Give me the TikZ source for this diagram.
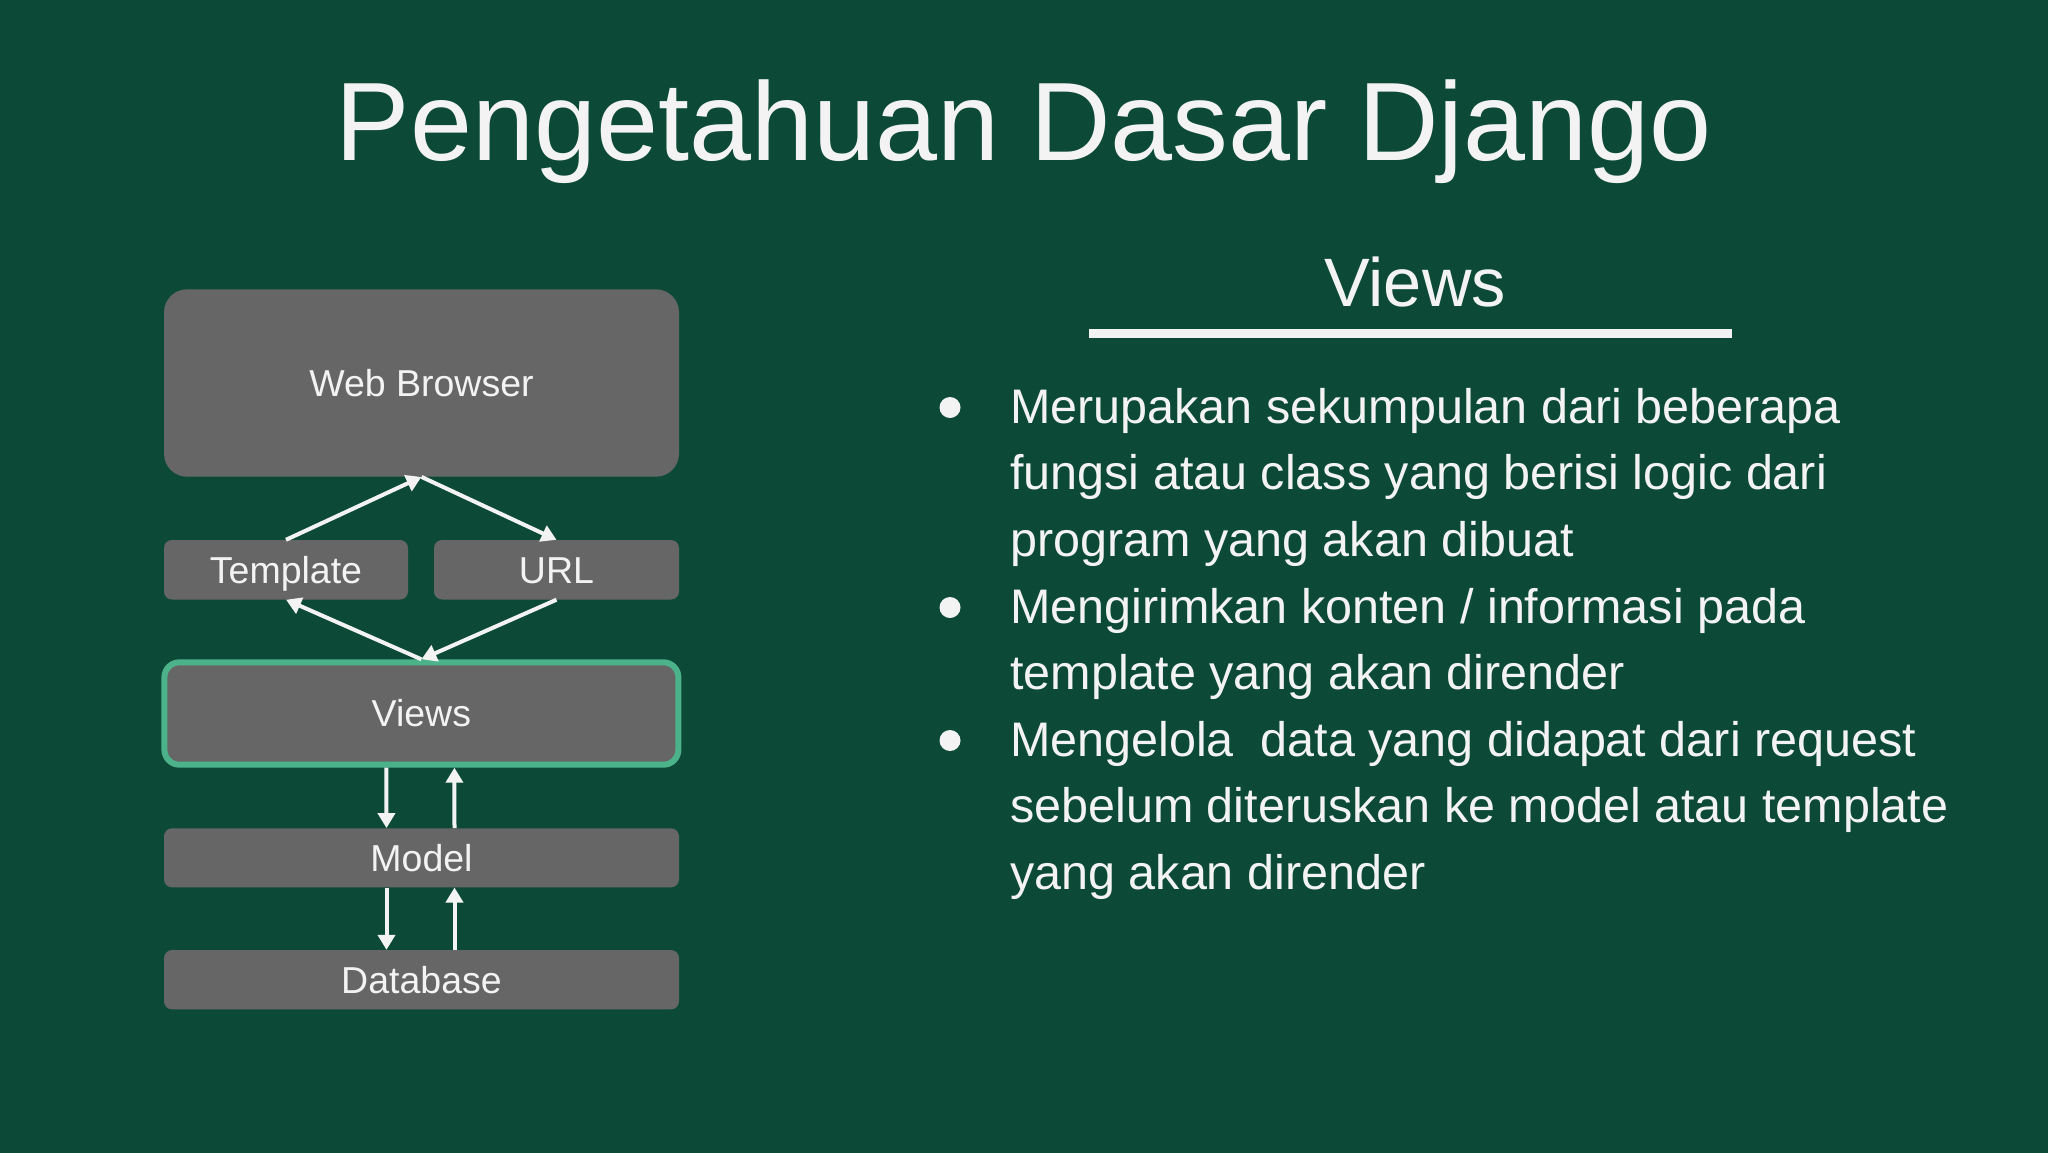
\documentclass[tikz,border=0pt]{standalone}
\usepackage{fontspec}
\setmainfont{Liberation Sans}
\usetikzlibrary{arrows.meta,calc}
\definecolor{bg}{RGB}{12,74,55}
\definecolor{boxgray}{RGB}{102,102,102}
\definecolor{viewgreen}{RGB}{76,178,138}
\definecolor{fg}{RGB}{243,243,243}
\begin{document}
\begin{tikzpicture}[x=1pt,y=-1pt,
  box/.style={fill=boxgray, rounded corners=8pt, inner sep=0pt, text=fg,
    font=\fontsize{37.5}{45}\selectfont, text height=26.8pt, text depth=0pt},
  arr/.style={draw=fg, line width=4pt, -{Triangle[width=17pt,length=15pt]}},
  line/.style={anchor=base west, inner sep=0pt, text=fg, font=\fontsize{48.5}{66}\selectfont},
  dot/.style={circle, fill=fg, inner sep=0pt, minimum size=21pt}]
\useasboundingbox (0,0) rectangle (2048,1152);
\fill[bg] (-20,-20) rectangle (2068,1172);

% title
\node[anchor=base, inner sep=0pt, text=fg, font=\fontsize{111.5}{130}\selectfont] (title) at (1024,160) {Pengetahuan Dasar Django};

% diagram
\node[box, rounded corners=23pt, minimum width=515pt, minimum height=187.4pt] (wb) at (421.5,383) {Web Browser};
\node[box, minimum width=244pt, minimum height=59.5pt] (tpl) at (286,569.75) {Template};
\node[box, minimum width=245pt, minimum height=59.5pt] (url) at (556.5,569.75) {URL};
\node[box, draw=viewgreen, line width=6pt, rounded corners=15pt, minimum width=514pt, minimum height=102.4pt] (views) at (421.4,713.5) {Views};
\node[box, minimum width=515pt, minimum height=59pt] (model) at (421.5,857.8) {Model};
\node[box, minimum width=515pt, minimum height=59.3pt] (db) at (421.5,979.7) {Database};

\draw[arr] (tpl.north) -- (wb.south);
\draw[arr] (wb.south) -- (url.north);
\draw[arr] (views.north) -- (tpl.south);
\draw[arr] (url.south) -- (views.north);
\draw[arr] ([xshift=-35pt]views.south) -- ([xshift=-35pt]model.north);
\draw[arr] ([xshift=33pt]model.north) -- ([xshift=33pt]views.south);
\draw[arr] ([xshift=-35pt]model.south) -- ([xshift=-35pt]db.north);
\draw[arr] ([xshift=33pt]db.north) -- ([xshift=33pt]model.south);

% right side
\node[anchor=base, inner sep=0pt, text=fg, font=\fontsize{68.5}{80}\selectfont] (vh) at (1415,306) {Views};
\coordinate (u1) at (1089,333);
\coordinate (u2) at (1732,333);
\draw[fg, line width=9pt] (u1) -- (u2);

\node[dot] (b1) at (950,407.5) {};
\node[dot] (b2) at (950,607.5) {};
\node[dot] (b3) at (950,740.5) {};

\node[line] (l1) at (1010,423) {Merupakan sekumpulan dari beberapa};
\node[line] (l2) at (1010,489.5) {fungsi atau class yang berisi logic dari};
\node[line] (l3) at (1010,556) {program yang akan dibuat};
\node[line] (l4) at (1010,623) {Mengirimkan konten / informasi pada};
\node[line] (l5) at (1010,689.5) {template yang akan dirender};
\node[line] (l6) at (1010,756) {Mengelola\ \ data yang didapat dari request};
\node[line] (l7) at (1010,822.5) {sebelum diteruskan ke model atau template};
\node[line] (l8) at (1010,889) {yang akan dirender};
\end{tikzpicture}
\end{document}
